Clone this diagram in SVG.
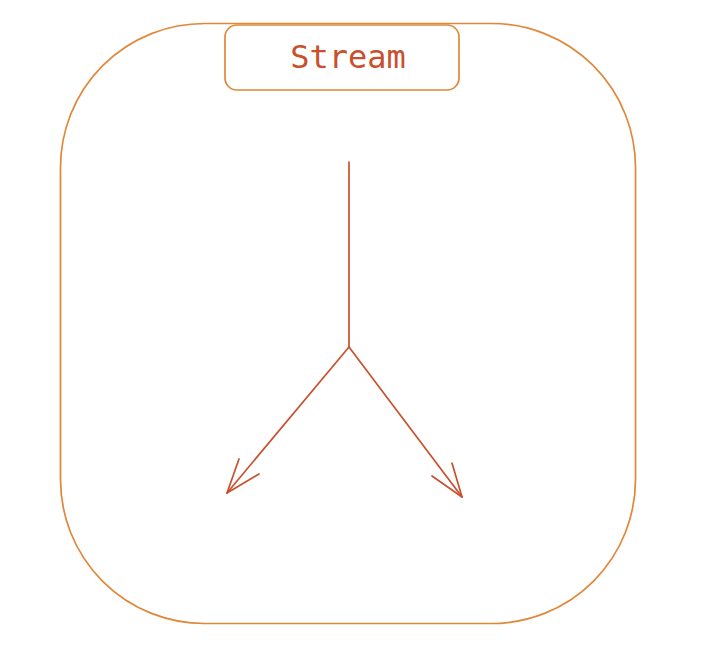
<svg xmlns="http://www.w3.org/2000/svg" width="716" height="662" viewBox="0 0 716 662">
<style>
.frame{fill:none;stroke:#e0883a;stroke-width:1.7}
.arrow{fill:none;stroke:#c9502c;stroke-width:1.7;stroke-linecap:round;stroke-linejoin:round}
.title{font-family:"DejaVu Sans Mono","Liberation Mono",monospace;font-size:32px;fill:#c9502c;text-anchor:middle}
</style>
<rect width="716" height="662" fill="#ffffff"/>
<g id="stream-container">
<rect class="frame" x="60.5" y="23.5" width="575" height="600" rx="144" ry="144"/>
</g>
<g id="stream-title">
<rect class="frame" x="225" y="25" width="234" height="65" rx="12" ry="12" fill="#ffffff"/>
<text class="title" x="348" y="68">Stream</text>
</g>
<g id="connectors">
<path class="arrow" d="M349 162 L349 347"/>
<path class="arrow" d="M349 347 L227 493"/>
<path class="arrow" d="M239 459 L227 493 L259 474"/>
<path class="arrow" d="M349 347 L462 497"/>
<path class="arrow" d="M432 476 L462 497 L452 463"/>
</g>
</svg>
